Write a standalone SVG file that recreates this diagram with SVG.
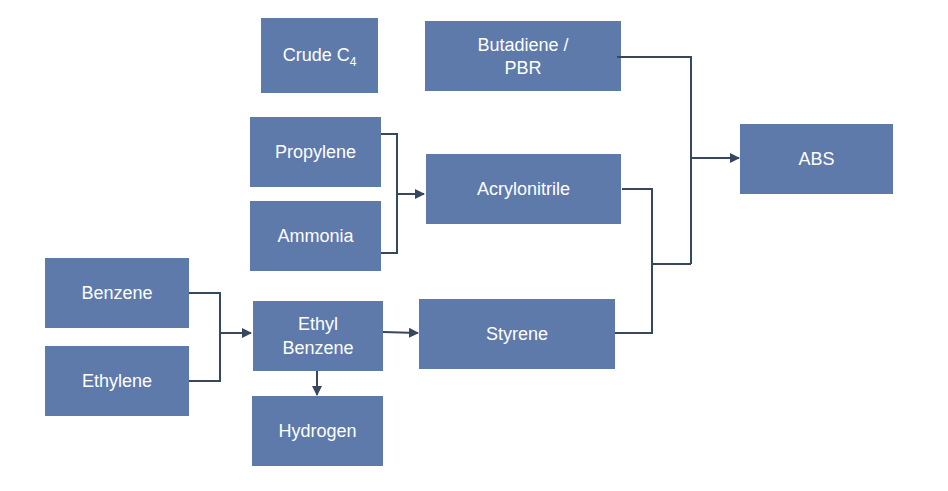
<svg xmlns="http://www.w3.org/2000/svg" width="948" height="491" viewBox="0 0 948 491">
<defs>
<marker id="arr" markerWidth="10" markerHeight="10" refX="9" refY="5" orient="auto" markerUnits="userSpaceOnUse">
<path d="M0,0 L10,5 L0,10 z" fill="#36475e"/>
</marker>
<style>
.b{fill:#5d7aab}
.t{fill:#ffffff;font-family:"Liberation Sans",Arial,sans-serif;font-size:18px;text-anchor:middle}
.c{fill:none;stroke:#36475e;stroke-width:2}
</style>
</defs>
<rect width="948" height="491" fill="#ffffff"/>
<g id="crude"><rect class="b" x="261" y="18" width="117" height="75"/><text class="t" x="319.5" y="61">Crude C<tspan font-size="12" dy="5">4</tspan></text></g>
<g id="butadiene"><rect class="b" x="425" y="21" width="196" height="70"/><text class="t" x="523" y="51">Butadiene /</text><text class="t" x="523" y="74">PBR</text></g>
<g id="propylene"><rect class="b" x="250" y="117" width="131" height="70"/><text class="t" x="315.5" y="158">Propylene</text></g>
<g id="ammonia"><rect class="b" x="250" y="201" width="131" height="70"/><text class="t" x="315.5" y="242">Ammonia</text></g>
<g id="acrylonitrile"><rect class="b" x="426" y="154" width="195" height="70"/><text class="t" x="523.5" y="195">Acrylonitrile</text></g>
<g id="abs"><rect class="b" x="740" y="124" width="153" height="70"/><text class="t" x="816.5" y="165">ABS</text></g>
<g id="benzene"><rect class="b" x="45" y="258" width="144" height="70"/><text class="t" x="117" y="299">Benzene</text></g>
<g id="ethylene"><rect class="b" x="45" y="346" width="144" height="70"/><text class="t" x="117" y="387">Ethylene</text></g>
<g id="ethylbenzene"><rect class="b" x="253" y="301" width="130" height="70"/><text class="t" x="318" y="330">Ethyl</text><text class="t" x="318" y="354">Benzene</text></g>
<g id="styrene"><rect class="b" x="419" y="299" width="196" height="70"/><text class="t" x="517" y="340">Styrene</text></g>
<g id="hydrogen"><rect class="b" x="252" y="396" width="131" height="70"/><text class="t" x="317.5" y="437">Hydrogen</text></g>
<g id="connectors">
<path class="c" d="M381,134 H397 V253 H381"/>
<path class="c" d="M397,194 H424" marker-end="url(#arr)"/>
<path class="c" d="M189,293 H220 V381 H189"/>
<path class="c" d="M220,333 H251" marker-end="url(#arr)"/>
<path class="c" d="M383,332 L418,333" marker-end="url(#arr)"/>
<path class="c" d="M317,371 V395" marker-end="url(#arr)"/>
<path class="c" d="M617,57 H691 V264"/>
<path class="c" d="M622,189 H652 V333 H615"/>
<path class="c" d="M652,264 H691"/>
<path class="c" d="M691,158 H739" marker-end="url(#arr)"/>
</g>
</svg>
